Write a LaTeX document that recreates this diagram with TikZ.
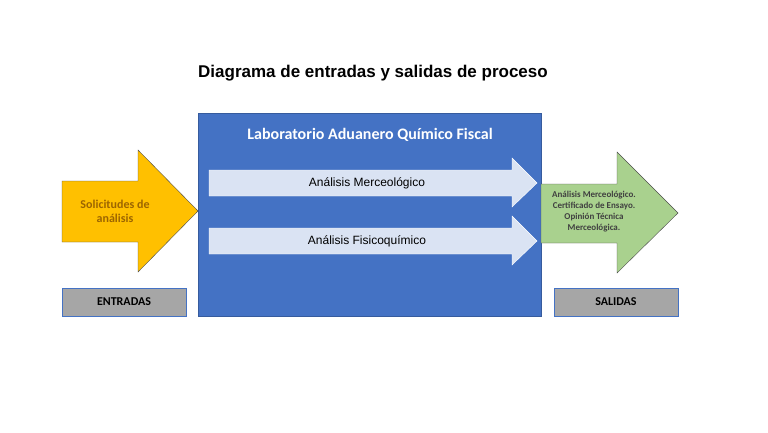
\documentclass[tikz,border=0pt]{standalone}
\usepackage{fontspec}
\setmainfont{Carlito}
\newfontfamily\arial{Liberation Sans}
\definecolor{blu}{HTML}{4472C4}
\definecolor{ylw}{HTML}{FFC000}
\definecolor{grn}{HTML}{A9D18E}
\definecolor{pale}{HTML}{DAE3F3}
\definecolor{gry}{HTML}{A6A6A6}
\definecolor{gold}{HTML}{9C6500}
\begin{document}
\begin{tikzpicture}[x=1pt,y=-1pt,
  lbl/.style={font=\bfseries\fontsize{12}{14}\selectfont},
  gbox/.style={draw=blu,fill=gry,line width=0.8pt}]
\useasboundingbox (0,0) rectangle (768,433);
\node[font=\arial\bfseries\fontsize{17}{20}\selectfont] (title) at (373,73) {Diagrama de entradas y salidas de proceso};
\draw[fill=blu,draw=blu!80!black] (198,113) rectangle (541,316);
\node[white,font=\bfseries\fontsize{16}{19}\selectfont] (lab) at (370,135) {Laboratorio Aduanero Químico Fiscal};
\draw[fill=ylw,draw=black!70] (62,181) -- (138,181) -- (138,150) -- (198,211) -- (138,272) -- (138,242) -- (62,242) -- cycle;
\node[gold,align=center,font=\bfseries\fontsize{12}{14}\selectfont] (in) at (115,211) {Solicitudes de\\análisis};
\draw[fill=grn,draw=black!70] (541,184) -- (617,184) -- (617,152) -- (678,213) -- (617,273) -- (617,243) -- (541,243) -- cycle;
\node[black!75,align=center,font=\bfseries\fontsize{9}{11}\selectfont] (out) at (594,212) {Análisis Merceológico.\\Certificado de Ensayo.\\Opinión Técnica\\Merceológica.};
\foreach \y/\t [count=\i] in {183/Análisis Merceológico,241/Análisis Fisicoquímico}{
  \draw[fill=pale,draw=white] (209,\y-13) -- (512,\y-13) -- (512,\y-25) -- (537,\y) -- (512,\y+24) -- (512,\y+13) -- (209,\y+13) -- cycle;
  \node[font=\arial\fontsize{12}{14}\selectfont] (a\i) at (367,\y) {\t};
}
\node[gbox,minimum width=124,minimum height=28,lbl] (ent) at (124,302) {ENTRADAS};
\node[gbox,minimum width=124,minimum height=28,lbl] (sal) at (616,302) {SALIDAS};
\end{tikzpicture}
\end{document}
